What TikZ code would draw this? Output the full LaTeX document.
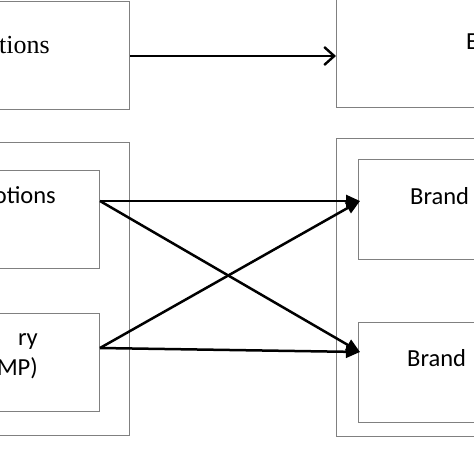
\documentclass[tikz,border=0pt]{standalone}
\usepackage{fontspec}
\setmainfont{Carlito}
\newfontfamily\serifface{Liberation Serif}
\usetikzlibrary{arrows.meta}
\tikzset{
  box/.style={draw=black!50, line width=1pt, inner sep=0pt, anchor=north west, fill=none},
  lbl/.style={inner sep=0pt, font=\fontsize{24.5}{28}\selectfont, text=black},
  serlbl/.style={inner sep=0pt, font=\serifface\fontsize{26}{30}\selectfont, text=black},
  link/.style={line width=2.5pt, draw=black, -{Triangle[length=14pt,width=12pt]}},
  openlink/.style={line width=2.4pt, draw=black, -{Straight Barb[length=10pt,width=18pt,line width=2.4pt]}}
}
\begin{document}
\begin{tikzpicture}[x=1pt,y=-1pt]
\fill[white] (0,0) rectangle (474,474);
\useasboundingbox (0,0) rectangle (474,474);
\clip (0,0) rectangle (474,474);
% top boxes
\node[box, minimum width=169pt, minimum height=108pt] (TL) at (-40,0.5) {};
\node[box, minimum width=184pt, minimum height=117pt] (TR) at (336,-10) {};
% left group
\node[box, minimum width=169pt, minimum height=293pt] (LO) at (-40,142) {};
\node[box, minimum width=139pt, minimum height=98pt] (LI1) at (-40,170) {};
\node[box, minimum width=139pt, minimum height=98pt] (LI2) at (-40,313) {};
% right group
\node[box, minimum width=184pt, minimum height=298pt] (RO) at (336,138) {};
\node[box, minimum width=162pt, minimum height=100pt] (RI1) at (358,159) {};
\node[box, minimum width=162pt, minimum height=100pt] (RI2) at (358,322) {};
% texts
\node[serlbl, anchor=base east] (t1) at (50,53) {tions};
\node[lbl, anchor=base west] (t2) at (466,49) {E};
\node[lbl, anchor=base east] (t3) at (56,203) {otions};
\node[lbl, anchor=base east] (t4) at (38,345) {ry};
\node[lbl, anchor=base east] (t5) at (38,375) {MP)};
\node[lbl, anchor=base west] (t6) at (410,204) {Brand};
\node[lbl, anchor=base west] (t7) at (407,366) {Brand};
% connector ends
\coordinate (a1) at (100,201);
\coordinate (a2) at (100,348);
\coordinate (b1) at (360,201);
\coordinate (b2) at (360,352);
% connectors
\draw[openlink] (TL.east |- 0,56) -- (TR.west |- 0,56);
\draw[link] (a1) -- (b1);
\draw[link] (a1) -- (b2);
\draw[link] (a2) -- (b1);
\draw[link] (a2) -- (b2);
\end{tikzpicture}
\end{document}
